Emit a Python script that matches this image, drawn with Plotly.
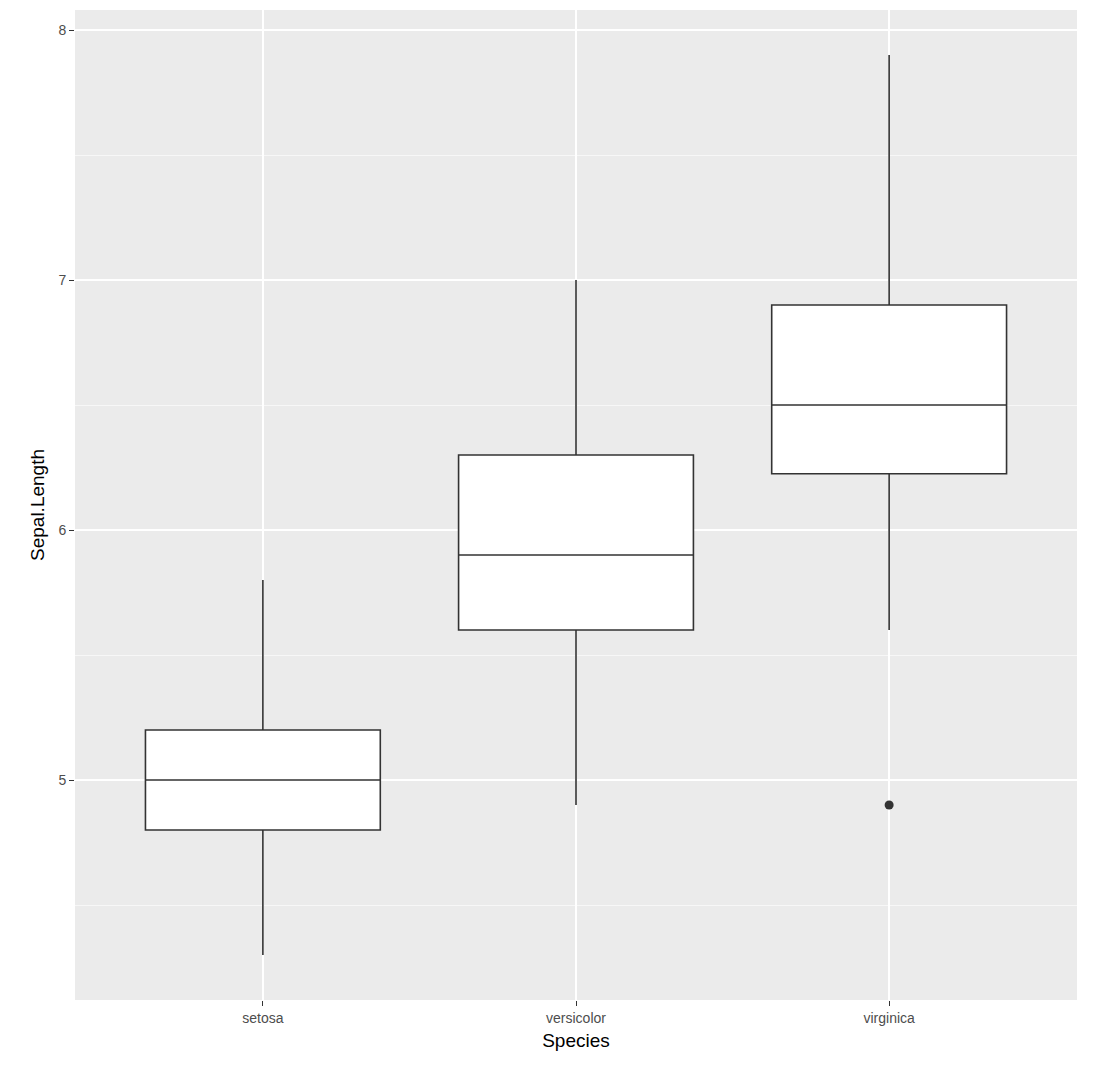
import plotly.graph_objects as go

species = ['setosa', 'versicolor', 'virginica']
lower = [4.3, 4.9, 5.6]
q1 = [4.8, 5.6, 6.225]
median = [5.0, 5.9, 6.5]
q3 = [5.2, 6.3, 6.9]
upper = [5.8, 7.0, 7.9]
outlier_species = ['virginica']
outlier_values = [4.9]

fig = go.Figure()
fig.add_trace(go.Box(
    x=species, q1=q1, median=median, q3=q3,
    lowerfence=lower, upperfence=upper,
    fillcolor='white', line=dict(color='#333333', width=1.6),
    whiskerwidth=0, width=0.75, boxpoints=False, showlegend=False,
    hoverinfo='skip',
))
fig.add_trace(go.Scatter(
    x=outlier_species, y=outlier_values, mode='markers',
    marker=dict(color='#333333', size=9), showlegend=False,
))

fig.update_layout(
    width=1096, height=1077,
    margin=dict(l=67, r=27, t=2, b=85),
    paper_bgcolor='white', plot_bgcolor='#ebebeb',
    font=dict(family='Liberation Sans, Arial, sans-serif', color='#4d4d4d', size=14),
)
fig.update_xaxes(
    title=dict(text='Species', font=dict(size=19, color='black'), standoff=8),
    showgrid=True, gridcolor='white', gridwidth=2,
    ticks='outside', ticklen=5, tickcolor='#333333', zeroline=False,
    range=[-0.6, 2.6],
)
fig.update_yaxes(
    title=dict(text='Sepal.Length', font=dict(size=19, color='black'), standoff=8),
    range=[4.12, 8.08], tickvals=[5, 6, 7, 8],
    showgrid=True, gridcolor='white', gridwidth=2,
    minor=dict(tickvals=[4.5, 5.5, 6.5, 7.5], showgrid=True, gridcolor='#f7f7f7', gridwidth=1, ticks=''),
    ticks='outside', ticklen=5, tickcolor='#333333', zeroline=False,
)
fig.write_html('out.html')
